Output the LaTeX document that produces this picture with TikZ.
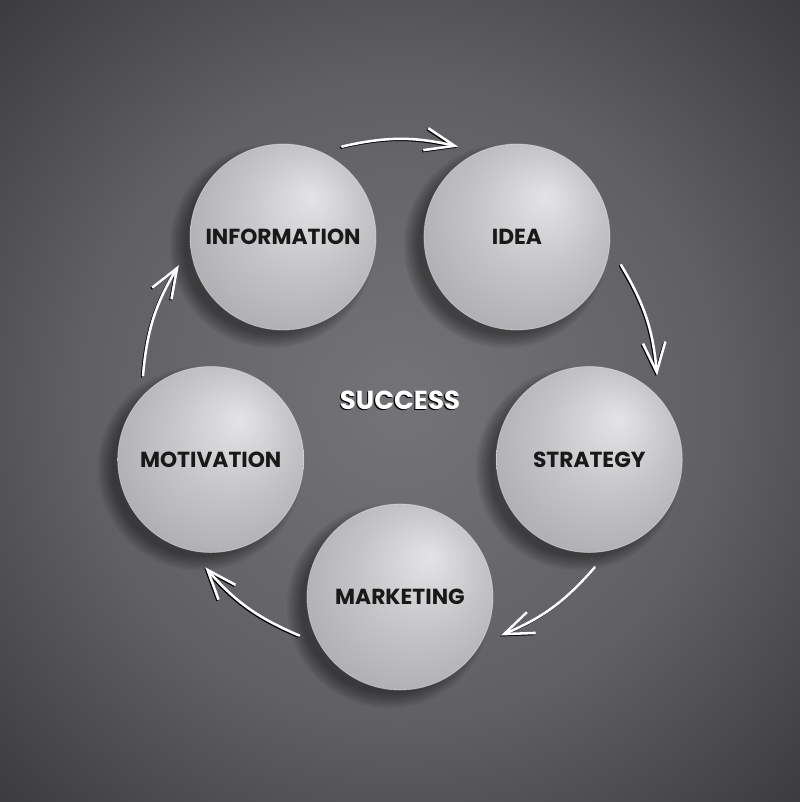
\documentclass[tikz,border=0pt]{standalone}
\usepackage{fontspec}
\setmainfont{Poppins}
\usetikzlibrary{arrows.meta}

\definecolor{bgin}{HTML}{747478}
\definecolor{bgmid}{HTML}{606064}
\definecolor{bgout}{HTML}{3A3A3E}
\definecolor{sphhi}{HTML}{E4E4E6}
\definecolor{sphmid}{HTML}{C6C6C9}
\definecolor{sphlow}{HTML}{ABABAF}

\pgfdeclareradialshading{backdrop}{\pgfpointorigin}{color(0bp)=(bgin); color(20bp)=(bgmid); color(36bp)=(bgout); color(50bp)=(bgout)}
\pgfdeclareradialshading{sphere}{\pgfpoint{8bp}{11bp}}{color(0bp)=(sphhi); color(16bp)=(sphmid); color(34bp)=(sphlow); color(50bp)=(sphlow)}

\begin{document}
\begin{tikzpicture}[x = 0.025cm, y = 0.025cm,
        ball/.style = {circle, minimum size = 4.65cm, inner sep = 0pt, shading = sphere, draw = white, draw opacity = 0.35, line width = 0.6pt, font = \bfseries\fontsize{15.5}{15.5}\selectfont, text = black!90},
        flow/.style = {white, line width = 1.8pt, line cap = round, -{Straight Barb[length = 21pt, width = 16pt, line width = 1.8pt]}},
        flowshade/.style = {black, line width = 1.8pt, line cap = round, -{Straight Barb[length = 21pt, width = 16pt, line width = 1.8pt]}},
        headline/.style = {font = \bfseries\fontsize{18.5}{18.5}\selectfont, inner sep = 0pt}]
    \useasboundingbox (-400, -404) rectangle (400, 398);
    \shade[shading = backdrop] (-400, -404) rectangle (400, 398);

    % spheres with soft shadows
    \foreach \ang/\nm/\txt in {126/info/INFORMATION, 54/idea/IDEA, -18/strategy/STRATEGY, -90/marketing/MARKETING, 198/motivation/MOTIVATION}{
        \foreach \k in {0, ..., 7}
            \fill[black, opacity = 0.06] ([shift = {(-11, -9)}]\ang:199) circle[radius = 88 + 2*\k];
        \node[ball] (\nm) at (\ang:199) {\txt};
    }

    % arrows
    \foreach \mid [count = \i] in {90, 18, -54, -126, 162}{
        \coordinate (s\i) at (\mid + 13:258);
        \coordinate (e\i) at (\mid - 13:258);
        \draw[flowshade] ([shift = {(-1, -1)}]s\i) to[bend left = 13] ([shift = {(-1, -1)}]e\i);
        \draw[flow] (s\i) to[bend left = 13] (e\i);
    }

    \node[headline, black] (successshade) at (-1.2, -3.2) {SUCCESS};
    \node[headline, white] (success) at (0, -2) {SUCCESS};
\end{tikzpicture}
\end{document}
